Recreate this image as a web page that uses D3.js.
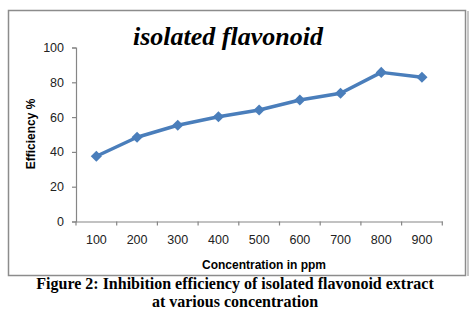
<!DOCTYPE html>
<html><head><meta charset="utf-8">
<script src="https://cdn.jsdelivr.net/npm/d3@7"></script>
<style>body{margin:0;background:#fff}svg{display:block}</style>
</head><body>
<script>
const categories = ["100","200","300","400","500","600","700","800","900"];
const efficiency = [37.5, 48.4, 55.3, 60.2, 64.1, 69.8, 73.7, 85.7, 82.9];
const yTicks = [0, 20, 40, 60, 80, 100];
const chartTitle = "isolated flavonoid";
const yTitle = "Efficiency %";
const xTitle = "Concentration in ppm";
const caption = ["Figure 2: Inhibition efficiency of isolated flavonoid extract", "at various concentration"];

const W = 474, H = 322;
const svg = d3.select("body").append("svg").attr("width", W).attr("height", H);
svg.append("rect").attr("width", W).attr("height", H).attr("fill", "#fff");

// frame
svg.append("rect").attr("x", 8.5).attr("y", 10.5).attr("width", 457).attr("height", 265)
  .attr("fill", "none").attr("stroke", "#8c8c8c").attr("stroke-width", 1.5);
svg.append("line").attr("x1", 468).attr("x2", 468).attr("y1", 11).attr("y2", 276)
  .attr("stroke", "#b5b5b5").attr("stroke-width", 1.5);

const x = d3.scaleBand().domain(categories).range([76, 442.3]).padding(0);
const y = d3.scaleLinear().domain([0, 100]).range([221.5, 47.5]);

const axisColor = "#868686";
const tickFont = "'Liberation Sans', Arial, sans-serif";

// y axis
const gy = svg.append("g").attr("transform", "translate(76,0)")
  .call(d3.axisLeft(y).tickValues(yTicks).tickSize(4).tickPadding(8));
gy.select(".domain").attr("stroke", axisColor).attr("stroke-width", 1.2);
gy.selectAll(".tick line").attr("stroke", axisColor).attr("stroke-width", 1.2);
gy.selectAll(".tick text").attr("font-family", tickFont).attr("font-size", 12.5).attr("fill", "#222");

// x axis
const gx = svg.append("g").attr("transform", `translate(0,${y(0)})`)
  .call(d3.axisBottom(x).tickSize(0).tickPadding(14));
gx.select(".domain").attr("stroke", axisColor).attr("stroke-width", 1.2);
gx.selectAll(".tick text").attr("font-family", tickFont).attr("font-size", 12.5).attr("fill", "#222");
// tick marks at band boundaries
const bounds = categories.map(c => x(c)).concat([x(categories[categories.length-1]) + x.bandwidth()]);
gx.selectAll("line.bt").data(bounds).enter().append("line").attr("class", "bt")
  .attr("x1", d => d).attr("x2", d => d).attr("y1", 0).attr("y2", 4)
  .attr("stroke", axisColor).attr("stroke-width", 1.2);

// line
const blue = "#4a7ebb";
const pts = categories.map((c, i) => [x(c) + x.bandwidth()/2, y(efficiency[i])]);
svg.append("path").datum(pts).attr("d", d3.line())
  .attr("fill", "none").attr("stroke", blue).attr("stroke-width", 3.5).attr("stroke-linejoin", "round");
svg.selectAll("path.mk").data(pts).enter().append("path").attr("class", "mk")
  .attr("d", d3.symbol(d3.symbolSquare, 62))
  .attr("transform", d => `translate(${d[0]},${d[1]}) rotate(45)`).attr("fill", blue);

// title
svg.append("text").attr("x", 228).attr("y", 45).attr("text-anchor", "middle")
  .attr("font-family", "'Liberation Serif', 'Times New Roman', serif")
  .attr("font-weight", "bold").attr("font-style", "italic").attr("font-size", 26)
  .attr("fill", "#000").text(chartTitle);

// axis titles
svg.append("text").attr("transform", "translate(35,134) rotate(-90)").attr("text-anchor", "middle")
  .attr("font-family", tickFont).attr("font-weight", "bold").attr("font-size", 12)
  .attr("fill", "#000").text(yTitle);
svg.append("text").attr("x", 264).attr("y", 269).attr("text-anchor", "middle")
  .attr("font-family", tickFont).attr("font-weight", "bold").attr("font-size", 12)
  .attr("fill", "#000").text(xTitle);

// caption
caption.forEach((t, i) => {
  svg.append("text").attr("x", 235).attr("y", 289 + i * 18).attr("text-anchor", "middle")
    .attr("font-family", "'Liberation Serif', 'Times New Roman', serif")
    .attr("font-weight", "bold").attr("font-size", 16).attr("fill", "#000").text(t);
});
</script>
</body></html>
